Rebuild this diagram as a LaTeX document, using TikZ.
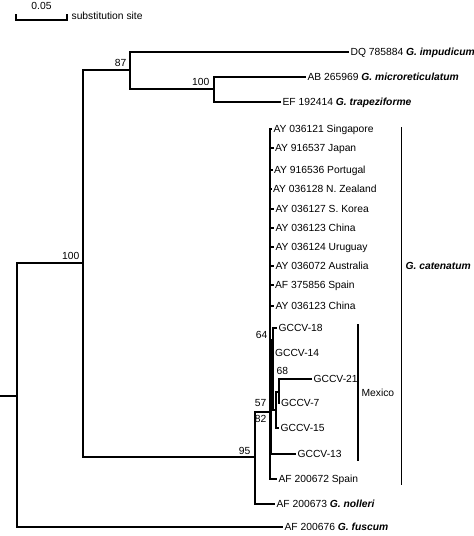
\documentclass[tikz,border=0pt]{standalone}
\usepackage{fontspec}
\setmainfont{Liberation Sans}
\usetikzlibrary{calc,positioning}

\begin{document}
\begin{tikzpicture}[x=1pt, y=-1pt, line width=1.2pt, font=\fontsize{10.3}{12}\selectfont,
    leaf/.style={anchor=west, inner sep=1pt, text height=7.4pt, text depth=0pt},
    boot/.style={anchor=east, inner sep=0pt, text height=7.4pt, text depth=0pt},
    clade/.style={line width=1.7pt}]
    \useasboundingbox (0,0) rectangle (474,536);
    % scale bar
    \coordinate (sbL) at (16,20);
    \coordinate (sbR) at (67,20);
    \draw[line width=1.1pt] ($(sbL)+(0,-6)$) -- (sbL) -- (sbR) -- ++(0,-6);
    \node[boot, anchor=center] (sbval) at (41.5,6) {0.05};
    \node[leaf] (sbtxt) at (70,16) {substitution site};
    % internal nodes
    \coordinate (stub) at (0,396);
    \coordinate (root) at (17,396);
    \coordinate (n100a) at (83,263);
    \coordinate (n87) at (130,70);
    \coordinate (n100b) at (214,89);
    \coordinate (n95) at (255,457);
    \coordinate (n57) at (270,412);
    \coordinate (n82) at (271.5,420);
    \coordinate (n64) at (273,340);
    \coordinate (nGC) at (276,410);
    \coordinate (n68) at (279,392);
    % leaves
    \node[leaf] (impu) at (349,52) {DQ 785884 \textbf{\textit{G. impudicum}}};
    \node[leaf] (micro) at (306,77) {AB 265969 \textbf{\textit{G. microreticulatum}}};
    \node[leaf] (trap) at (281,102) {EF 192414 \textbf{\textit{G. trapeziforme}}};
    \node[leaf] (sing) at (272,129) {AY 036121 Singapore};
    \node[leaf] (japan) at (273.5,148) {AY 916537 Japan};
    \node[leaf] (port) at (272.5,170) {AY 916536 Portugal};
    \node[leaf] (nz) at (271.5,189) {AY 036128 N. Zealand};
    \node[leaf] (skor) at (274,209) {AY 036127 S. Korea};
    \node[leaf] (chinaA) at (274,228) {AY 036123 China};
    \node[leaf] (urug) at (274,247) {AY 036124 Uruguay};
    \node[leaf] (aus) at (274,266) {AY 036072 Australia};
    \node[leaf] (spainA) at (273.5,285) {AF 375856 Spain};
    \node[leaf] (chinaB) at (274,306) {AY 036123 China};
    \node[leaf] (g18) at (277,328) {GCCV-18};
    \node[leaf] (g14) at (273.5,353) {GCCV-14};
    \node[leaf] (g21) at (312,379) {GCCV-21};
    \node[leaf] (g7) at (279.5,403) {GCCV-7};
    \node[leaf] (g15) at (279,428) {GCCV-15};
    \node[leaf] (g13) at (296,454) {GCCV-13};
    \node[leaf] (spainB) at (277,479) {AF 200672 Spain};
    \node[leaf] (noll) at (275,504) {AF 200673 \textbf{\textit{G. nolleri}}};
    \node[leaf] (fusc) at (283,527) {AF 200676 \textbf{\textit{G. fuscum}}};
    % branches
    \draw (stub) -- (root);
    \draw (root) |- (n100a);
    \draw (root) |- (fusc.west);
    \draw (n100a) |- (n87);
    \draw (n100a) |- (n95);
    \draw (n87) |- (impu.west);
    \draw (n87) |- (n100b);
    \draw (n100b) |- (micro.west);
    \draw (n100b) |- (trap.west);
    \draw (n95) |- (n57);
    \draw (n95) |- (noll.west);
    \foreach \t in {sing,japan,port,nz,skor,chinaA,urug,aus,spainA,chinaB,spainB}
        \draw (n57) |- (\t.west);
    \draw (n57) |- (n82);
    \draw (n82) |- (n64);
    \draw (n82) |- (g13.west);
    \foreach \t in {g18,g14}
        \draw (n64) |- (\t.west);
    \draw (n64) |- (nGC);
    \draw (nGC) |- (n68);
    \draw (nGC) |- (g15.west);
    \draw (n68) |- (g21.west);
    \draw (n68) |- (g7.west);
    % support values
    \node[boot] (b87) at (127,63) {87};
    \node[boot] (b100a) at (80,256) {100};
    \node[boot] (b100b) at (210,82) {100};
    \node[boot] (b95) at (251,451) {95};
    \node[boot] (b57) at (267,403) {57};
    \node[boot] (b82) at (267,419) {82};
    \node[boot] (b64) at (268,335) {64};
    \node[boot, anchor=west] (b68) at (276,371) {68};
    % clade bars
    \coordinate (catTop) at (401.5,127);
    \coordinate (catBot) at (401.5,485);
    \draw[clade] (catTop) -- (catBot);
    \node[leaf] (cat) at (404,266) {\textbf{\textit{G. catenatum}}};
    \coordinate (mexTop) at (358,324);
    \coordinate (mexBot) at (358,461);
    \draw[clade] (mexTop) -- (mexBot);
    \node[leaf] (mex) at (360,393) {Mexico};
\end{tikzpicture}
\end{document}
